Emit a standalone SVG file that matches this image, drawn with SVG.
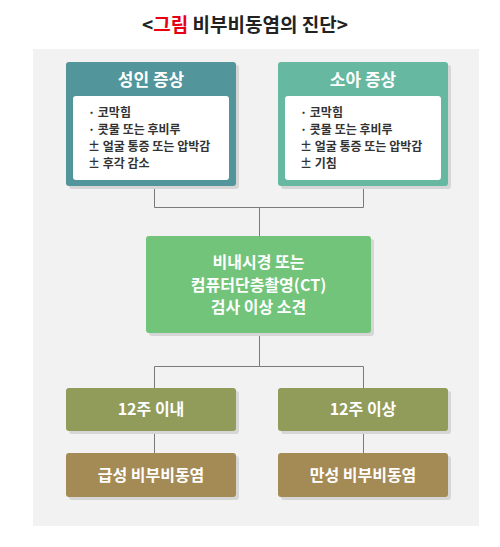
<svg xmlns="http://www.w3.org/2000/svg" width="500" height="547" viewBox="0 0 500 547">
<style>
text{font-family:"Noto Sans CJK KR","Noto Sans",sans-serif;}
.hd{font-size:17px;font-weight:bold;fill:#fff;text-anchor:middle;}
.li{font-size:12px;font-weight:bold;fill:#333;}
.bx{font-size:16px;font-weight:bold;fill:#fff;text-anchor:middle;}
.sh{fill:#d6d6d6;}
.cn{stroke:#7a7a7a;stroke-width:1;fill:none;}
</style>
<rect x="0" y="0" width="500" height="547" fill="#fff"/>
<text x="245" y="32" font-size="19" font-weight="bold" text-anchor="middle" fill="#222">&lt;<tspan fill="#e60012">그림</tspan> 비부비동염의 진단&gt;</text>
<rect x="33" y="49" width="446" height="477" fill="#f2f2f2"/>
<g id="connectors">
<path class="cn" d="M154.5 186V207.5H363.5V186M259.5 207.5V236"/>
<path class="cn" d="M259.5 333V366.5H154.5V388M259.5 366.5H363.5V388"/>
<path class="cn" d="M154.5 431V453M363.5 431V453"/>
</g>
<g id="adult">
<rect class="sh" x="69" y="65" width="170" height="124" rx="3"/>
<rect x="66" y="62" width="170" height="124" rx="3" fill="#52969b"/>
<text class="hd" x="151" y="86">성인 증상</text>
<rect x="73" y="96" width="156" height="84" rx="3" fill="#fff"/>
<text class="li" x="88" y="117">· 코막힘</text>
<text class="li" x="88" y="134">· 콧물 또는 후비루</text>
<text class="li" x="88" y="151">± 얼굴 통증 또는 압박감</text>
<text class="li" x="88" y="168">± 후각 감소</text>
</g>
<g id="child">
<rect class="sh" x="281" y="65" width="170" height="124" rx="3"/>
<rect x="278" y="62" width="170" height="124" rx="3" fill="#66b8a1"/>
<text class="hd" x="363" y="86">소아 증상</text>
<rect x="285" y="96" width="156" height="84" rx="3" fill="#fff"/>
<text class="li" x="300" y="117">· 코막힘</text>
<text class="li" x="300" y="134">· 콧물 또는 후비루</text>
<text class="li" x="300" y="151">± 얼굴 통증 또는 압박감</text>
<text class="li" x="300" y="168">± 기침</text>
</g>
<g id="exam">
<rect class="sh" x="149" y="239" width="225" height="97" rx="3"/>
<rect x="146" y="236" width="225" height="97" rx="3" fill="#72c47a"/>
<text class="bx" x="258.5" y="268">비내시경 또는</text>
<text class="bx" x="258.5" y="290.5">컴퓨터단층촬영(CT)</text>
<text class="bx" x="258.5" y="313">검사 이상 소견</text>
</g>
<g id="within12">
<rect class="sh" x="69" y="391" width="170" height="43" rx="3"/>
<rect x="66" y="388" width="170" height="43" rx="3" fill="#919b5a"/>
<text class="bx" x="151" y="415">12주 이내</text>
</g>
<g id="over12">
<rect class="sh" x="281" y="391" width="170" height="43" rx="3"/>
<rect x="278" y="388" width="170" height="43" rx="3" fill="#919b5a"/>
<text class="bx" x="363" y="415">12주 이상</text>
</g>
<g id="acute">
<rect class="sh" x="69" y="456" width="170" height="44" rx="3"/>
<rect x="66" y="453" width="170" height="44" rx="3" fill="#a48b55"/>
<text class="bx" x="151" y="481">급성 비부비동염</text>
</g>
<g id="chronic">
<rect class="sh" x="281" y="456" width="170" height="44" rx="3"/>
<rect x="278" y="453" width="170" height="44" rx="3" fill="#a48b55"/>
<text class="bx" x="363" y="481">만성 비부비동염</text>
</g>
</svg>
